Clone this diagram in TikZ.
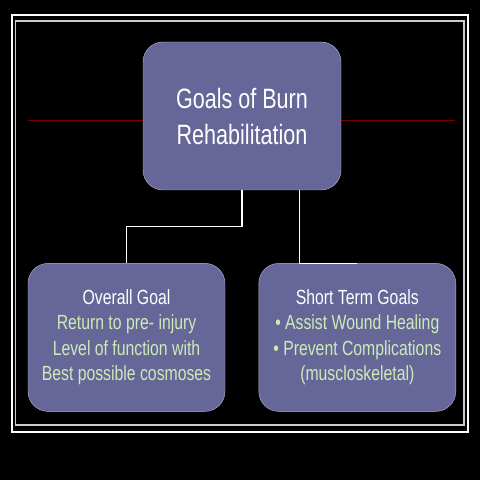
\documentclass[tikz,border=0pt]{standalone}
\usepackage{fontspec}
\setmainfont[FakeStretch=0.77]{Liberation Sans}
\usetikzlibrary{positioning}
\definecolor{boxfill}{RGB}{102,102,153}
\definecolor{boxline}{RGB}{185,185,205}
\definecolor{bodygreen}{RGB}{204,236,180}
\definecolor{darkred}{RGB}{120,0,0}
\tikzset{
    goal/.style={rounded corners=20pt, draw=boxline, fill=boxfill, minimum width=197pt,
        minimum height=148pt, inner sep=0pt, align=center, text=bodygreen,
        font=\fontsize{20.5}{25.5}\selectfont},
    topgoal/.style={goal, minimum width=198pt, text=white, font=\fontsize{28}{36}\selectfont},
    link/.style={draw=white, line width=1.2pt}
}

\begin{document}
\begin{tikzpicture}[x=1pt, y=1pt]
        \fill[black] (0,0) rectangle (480,480);
        \draw[white, line width=2pt] (12,48) rectangle (468,465);
        \draw[white!80!black, line width=1.5pt] (15.7,55) rectangle (464,459);
        \draw[darkred, line width=1pt] (28,359) -- (455,359);

        \node[topgoal] (top) at (242,364) {Goals of Burn\\Rehabilitation};
        \node[goal] (overall) [below=73pt of top, xshift=-115.5pt]
            {\textcolor{white}{Overall Goal}\\Return to pre- injury\\Level of function with\\Best possible cosmoses};
        \node[goal] (short) [below=73pt of top, xshift=115.3pt]
            {\textcolor{white}{Short Term Goals}\\• Assist Wound Healing\\• Prevent Complications\\(muscloskeletal)};

        \draw[link] (top.south) -- ++(0,-36) -| (overall.north);
        \draw[link] ([xshift=57.3pt]top.south) |- (short.north);
\end{tikzpicture}
\end{document}
